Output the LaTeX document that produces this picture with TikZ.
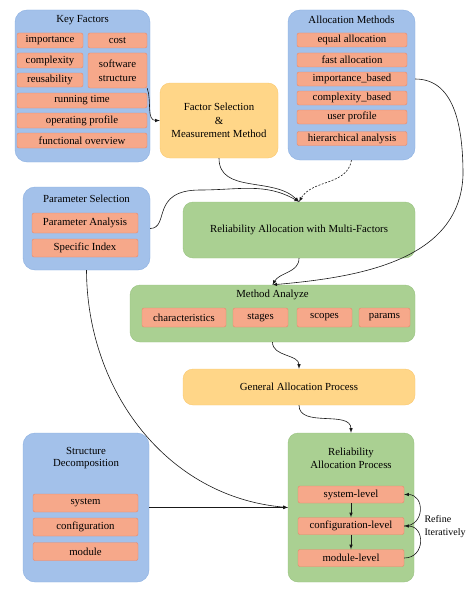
\documentclass[tikz,border=0pt]{standalone}
\usepackage{fontspec}
\setmainfont{Liberation Serif}
\usepackage{tikz}
\usetikzlibrary{arrows,calc,shapes}

\definecolor{boxblue}{RGB}{163,193,234}
\definecolor{lineblue}{RGB}{138,175,225}
\definecolor{itemred}{RGB}{246,168,138}
\definecolor{lineitem}{RGB}{232,136,106}
\definecolor{boxgreen}{RGB}{170,208,146}
\definecolor{linegreen}{RGB}{152,194,128}
\definecolor{boxyellow}{RGB}{255,214,136}
\definecolor{lineyellow}{RGB}{250,200,112}

\begin{document}
\begin{tikzpicture}[x=1pt,y=1pt,
  font=\fontsize{10.8}{13}\selectfont,
  group/.style={draw=lineblue,fill=boxblue,rounded corners=12pt,inner sep=0pt},
  item/.style={draw=lineitem,fill=itemred,rounded corners=2pt,inner sep=1pt,minimum height=15pt},
  stage/.style={draw=linegreen,fill=boxgreen,rounded corners=10pt,inner sep=0pt},
  task/.style={draw=lineyellow,fill=boxyellow,rounded corners=10pt,inner sep=0pt},
  link/.style={-latex,semithick,black!90}]
\useasboundingbox (0,0) rectangle (474,-594);

% key factors
\node[group,minimum width=135pt,minimum height=152pt] (keyf) at (82.5,-86) {};
\node (keyft) at (82.5,-20) {Key Factors};
\node[item,minimum width=66pt] (imp) at (50,-40.5) {importance};
\node[item,minimum width=59pt] (cost) at (117.5,-40.5) {cost};
\node[item,minimum width=66pt] (cplx) at (50,-60.5) {complexity};
\node[item,minimum width=66pt,minimum height=14pt] (reuse) at (50,-80) {reusability};
\node[item,minimum width=59pt,minimum height=35pt,align=center,font=\fontsize{10.8}{14}\selectfont] (soft) at (117.5,-70.5) {software\\structure};
\node[item,minimum width=130pt] (run) at (82,-100.5) {running time};
\node[item,minimum width=130pt] (oper) at (82,-120.5) {operating profile};
\node[item,minimum width=130pt] (func) at (82,-140.5) {functional overview};

% factor selection
\node[task,minimum width=118pt,minimum height=75pt,align=center,font=\fontsize{10.8}{13.5}\selectfont] (factor) at (219,-120.5) {Factor Selection\\\&\\Measurement Method};

% allocation methods
\node[group,minimum width=127pt,minimum height=150pt] (alloc) at (351.5,-85) {};
\node (alloct) at (351.5,-20) {Allocation Methods};
\node[item,minimum width=110pt,minimum height=14pt] (equal) at (352,-40) {equal allocation};
\node[item,minimum width=110pt,minimum height=14pt] (fast) at (352,-60) {fast allocation};
\node[item,minimum width=110pt,minimum height=14pt] (impb) at (352,-79) {importance\_based};
\node[item,minimum width=110pt,minimum height=14pt] (cplxb) at (352,-98) {complexity\_based};
\node[item,minimum width=110pt,minimum height=14pt] (user) at (352,-117) {user profile};
\node[item,minimum width=110pt,minimum height=14pt] (hier) at (352,-138.5) {hierarchical analysis};

% parameter selection
\node[group,minimum width=127pt,minimum height=83pt] (param) at (86.5,-228.5) {};
\node (paramt) at (86.5,-199) {Parameter Selection};
\node[item,minimum width=106pt,minimum height=20pt] (pana) at (85,-223) {Parameter Analysis};
\node[item,minimum width=106pt,minimum height=18pt] (spec) at (85,-248) {Specific Index};

% multi-factors
\node[stage,minimum width=232pt,minimum height=56pt] (multi) at (299,-230) {Reliability Allocation with Multi-Factors};

% method analyze
\node[stage,minimum width=285pt,minimum height=57pt] (method) at (272.5,-313.5) {};
\node (methodt) at (272.5,-295) {Method Analyze};
\node[item,minimum width=84pt,minimum height=19pt] (chara) at (184,-317.5) {characteristics};
\node[item,minimum width=55pt,minimum height=19pt] (stg) at (260.5,-317.5) {stages};
\node[item,minimum width=55pt,minimum height=19pt] (scp) at (324.5,-317.5) {scopes};
\node[item,minimum width=51pt,minimum height=19pt] (prm) at (384.5,-317.5) {params};

% general process
\node[task,minimum width=232pt,minimum height=36pt] (gen) at (299,-387) {General Allocation Process};

% structure decomposition
\node[group,minimum width=126pt,minimum height=149pt] (sd) at (86,-507.5) {};
\node[align=center,font=\fontsize{10.8}{12.7}\selectfont] (sdt) at (86,-458) {Structure\\Decomposition};
\node[item,minimum width=105pt,minimum height=18pt] (sys) at (85.5,-503) {system};
\node[item,minimum width=105pt,minimum height=18pt] (conf) at (85.5,-527) {configuration};
\node[item,minimum width=105pt,minimum height=18pt] (mod) at (85.5,-551.5) {module};

% reliability allocation process
\node[stage,minimum width=126pt,minimum height=149pt] (rap) at (351,-507.5) {};
\node[align=center,font=\fontsize{10.8}{12.7}\selectfont] (rapt) at (351,-458) {Reliability\\Allocation Process};
\node[item,minimum width=106pt,minimum height=17pt] (syslvl) at (351,-494.5) {system-level};
\node[item,minimum width=106pt,minimum height=17pt] (cfglvl) at (351,-526) {configuration-level};
\node[item,minimum width=106pt,minimum height=17pt] (modlvl) at (351,-558) {module-level};
\node[anchor=west,align=left,font=\fontsize{10}{12.5}\selectfont] (refine) at (421,-526.5) {Refine\\Iteratively};

% the links
\coordinate (bend) at (463,-175);
\draw[link] (soft.south east) to[out=-70,in=180] (factor.west);
\draw[link] (factor.south) to[out=-90,in=135] (multi.north);
\draw[link,dash pattern=on 2pt off 1.5pt] (alloc.south) to[out=-100,in=60] (multi.north);
\draw[link] (param.east) .. controls (170,-228) and (150,-190) .. (200,-190) to[out=0,in=150] (multi.north);
\draw[link] (alloc.east |- impb.east) to[out=0,in=90] (bend) to[out=-92,in=5] (method.north);
\draw[link] (multi.south) to[out=-90,in=60] (method.north);
\draw[link] (method.south) to[out=-90,in=90] (gen.north);
\draw[link] (gen.south) to[out=-90,in=90] (rap.north);
\draw[link] (param.south) .. controls (87,-391) and (167,-497) .. (rap.west);
\draw[link] (sd.east) -- (rap.west);
\draw[link] (syslvl) -- (cfglvl);
\draw[link] (cfglvl) -- (modlvl);
\draw[link] (modlvl.east) to[out=0,in=0,looseness=1.7] (cfglvl.east);
\draw[link] (cfglvl.east) to[out=0,in=0,looseness=1.7] (syslvl.east);
\end{tikzpicture}
\end{document}
